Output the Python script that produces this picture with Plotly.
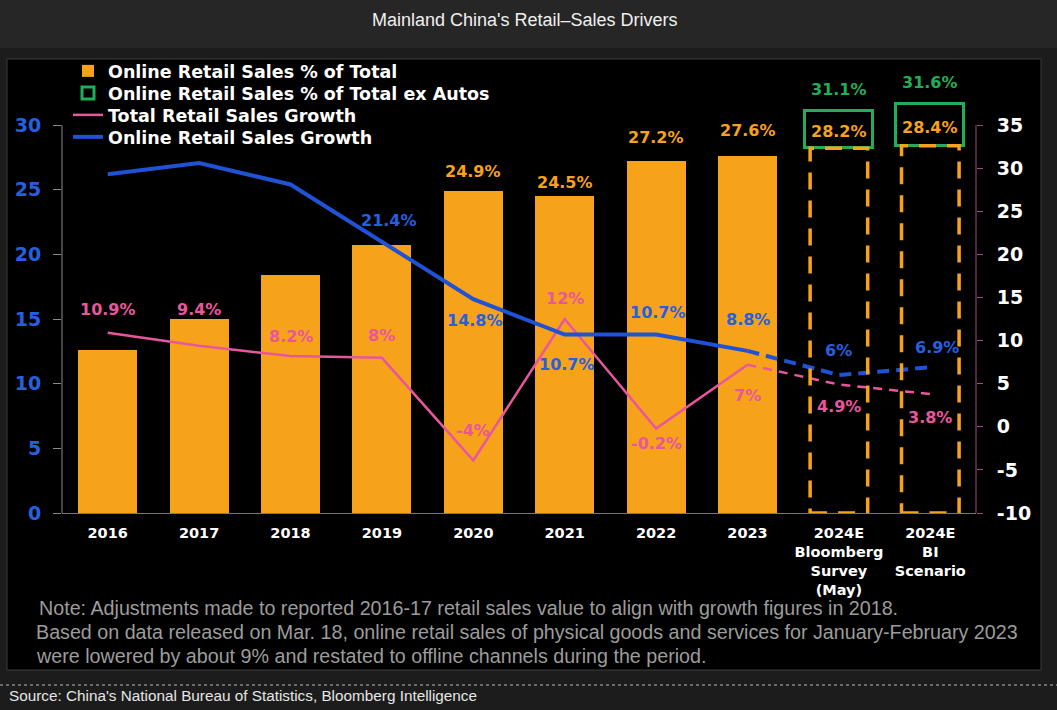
import plotly.graph_objects as go

# ---------------- data ----------------
categories = ["2016", "2017", "2018", "2019", "2020", "2021", "2022", "2023",
              "2024E<br>Bloomberg<br>Survey<br>(May)", "2024E<br>BI<br>Scenario"]
online_share = [12.6, 15.0, 18.4, 20.7, 24.9, 24.5, 27.2, 27.6, 28.2, 28.4]
online_share_ex_autos = [None, None, None, None, None, None, None, None, 31.1, 31.6]
total_growth = [10.9, 9.4, 8.2, 8.0, -3.9, 12.5, -0.2, 7.2, 4.9, 3.8]
online_growth = [29.3, 30.6, 28.1, 21.4, 14.8, 10.7, 10.7, 8.8, 6.0, 6.9]
estimate_flags = [False] * 8 + [True, True]

left_ticks = [0, 5, 10, 15, 20, 25, 30]
right_ticks = [-10, -5, 0, 5, 10, 15, 20, 25, 30, 35]

# label texts / offsets (pixels)
total_labels = ["10.9%", "9.4%", "8.2%", "8%", "-4%", "12%", "-0.2%", "7%", "4.9%", "3.8%"]
total_shift = [23, 36, 20, 22, 30, 21, -15, -31, -22, -23]
online_labels = [None, None, None, "21.4%", "14.8%", "10.7%", "10.7%", "8.8%", "6%", "6.9%"]
online_shift = [0, 0, 0, 22, -21, -30, 22, 31, 25, 20]
online_xshift = [0, 0, 0, 7, 2, 2, 2, 0, 0, 7]
share_labels = [None, None, None, None, "24.9%", "24.5%", "27.2%", "27.6%", "28.2%", "28.4%"]
share_shift = [0, 0, 0, 0, 19, 14, 24, 26, 17, 18]
ex_autos_labels = [None] * 8 + ["31.1%", "31.6%"]
ex_autos_shift = [0] * 8 + [21, 22]

# ---------------- styling ----------------
W_PX, H_PX = 1057, 710
L, R, T, B = 62, 81, 62, 197
PW, PH = W_PX - L - R, H_PX - T - B
base_px = H_PX - B  # pixel y of axis bottom

ORANGE = "#F7A21B"
GREEN = "#22AD5A"
PINK = "#E8579E"
BLUE = "#1F52D4"
BLUE_TXT = "#2460E0"
BOLD = "DejaVu Sans"
NARROW = "Liberation Sans, Arial, sans-serif"

# left axis: 0..30 over 388 px ; right: -10..35 over same px
left_top = 30 * PH / 388.0
right_top = -10 + 45 * PH / 388.0


def px_x(px):
    return (px - L) / PW


def px_y(py):
    return (base_px - py) / PH


idx = list(range(len(categories)))

fig = go.Figure()

bar_colors = ["rgba(0,0,0,0)" if e else ORANGE for e in estimate_flags]
fig.add_trace(go.Bar(
    x=categories, y=online_share, name="Online Retail Sales % of Total",
    marker=dict(color=bar_colors, line=dict(width=0)), width=0.645,
    yaxis="y", legend="legend",
))
ex_base = [s if e is not None else None for s, e in zip(online_share, online_share_ex_autos)]
ex_height = [(e - s) if e is not None else None for s, e in zip(online_share, online_share_ex_autos)]
fig.add_trace(go.Bar(
    x=categories, y=ex_height, base=ex_base, name="Online Retail Sales % of Total ex Autos",
    marker=dict(color="rgba(0,0,0,0)", line=dict(color=GREEN, width=3)), width=0.74,
    yaxis="y", legend="legend2",
))

n_act = estimate_flags.index(True)
fig.add_trace(go.Scatter(
    x=categories[:n_act], y=total_growth[:n_act], mode="lines", name="Total Retail Sales Growth",
    line=dict(color=PINK, width=2.5), yaxis="y2", legend="legend3",
))
fig.add_trace(go.Scatter(
    x=categories[n_act - 1:], y=total_growth[n_act - 1:], mode="lines", showlegend=False,
    line=dict(color=PINK, width=2.5, dash="9px,7px"), yaxis="y2",
))
fig.add_trace(go.Scatter(
    x=categories[:n_act], y=online_growth[:n_act], mode="lines", name="Online Retail Sales Growth",
    line=dict(color=BLUE, width=4), yaxis="y2", legend="legend4",
))
fig.add_trace(go.Scatter(
    x=categories[n_act - 1:], y=online_growth[n_act - 1:], mode="lines", showlegend=False,
    line=dict(color=BLUE, width=4, dash="12px,7px"), yaxis="y2",
))

shapes = []
# background panels
shapes.append(dict(type="rect", xref="paper", yref="paper", x0=px_x(0), x1=px_x(W_PX),
                   y0=px_y(48), y1=px_y(0), fillcolor="#262626", line=dict(width=0), layer="below"))
shapes.append(dict(type="rect", xref="paper", yref="paper", x0=px_x(7), x1=px_x(1041),
                   y0=px_y(670), y1=px_y(59), fillcolor="#000000",
                   line=dict(color="#3c3c3c", width=1), layer="below"))
shapes.append(dict(type="line", xref="paper", yref="paper", x0=px_x(0), x1=px_x(W_PX),
                   y0=px_y(685), y1=px_y(685), line=dict(color="#bbbbbb", width=1, dash="dot"),
                   layer="below"))
# axis lines
shapes.append(dict(type="line", xref="paper", yref="y", x0=0, x1=0, y0=left_ticks[0], y1=left_ticks[-1],
                   line=dict(color="#8a8a8a", width=1)))
shapes.append(dict(type="line", xref="paper", yref="y2", x0=1, x1=1, y0=right_ticks[0], y1=right_ticks[-1],
                   line=dict(color="#9a4f7a", width=1)))
# dashed estimate bars
for i, v, e in zip(idx, online_share, estimate_flags):
    if e:
        shapes.append(dict(type="rect", xref="x", yref="y", x0=i - 0.315, x1=i + 0.315, y0=0, y1=v,
                           fillcolor="rgba(0,0,0,0)",
                           line=dict(color=ORANGE, width=3.5, dash="17px,11px")))

ann = []
ann.append(dict(text="Mainland China's Retail\u2013Sales Drivers", xref="paper", yref="paper",
                x=px_x(525), y=px_y(20), showarrow=False, xanchor="center", yanchor="middle",
                font=dict(family=NARROW, size=18, color="#f0f0f0")))
notes = ["Note: Adjustments made to reported 2016-17 retail sales value to align with growth figures in 2018.",
         "Based on data released on Mar. 18, online retail sales of physical goods and services for January-February 2023",
         "were lowered by about 9% and restated to offline channels during the period."]
for t, xp, yp in zip(notes, [37, 34, 34], [608, 632, 656]):
    ann.append(dict(text=t, xref="paper", yref="paper", x=px_x(xp), y=px_y(yp), showarrow=False,
                    xanchor="left", yanchor="middle",
                    font=dict(family=NARROW, size=19.7, color="#9c9c9c")))
ann.append(dict(text="Source: China's National Bureau of Statistics, Bloomberg Intelligence", xref="paper",
                yref="paper", x=px_x(7), y=px_y(695), showarrow=False, xanchor="left", yanchor="middle",
                font=dict(family=NARROW, size=15.3, color="#e6e6e6")))

for i, v, t, s in zip(idx, total_growth, total_labels, total_shift):
    if t:
        ann.append(dict(text=t, x=i, y=v, xref="x", yref="y2", yshift=s, showarrow=False,
                        font=dict(family=BOLD, size=16, color=PINK, weight="bold")))
for i, v, t, s, xs in zip(idx, online_growth, online_labels, online_shift, online_xshift):
    if t:
        ann.append(dict(text=t, x=i, y=v, xref="x", yref="y2", yshift=s, xshift=xs, showarrow=False,
                        font=dict(family=BOLD, size=16, color=BLUE_TXT, weight="bold")))
for i, v, t, s in zip(idx, online_share, share_labels, share_shift):
    if t:
        ann.append(dict(text=t, x=i, y=v, xref="x", yref="y", yshift=s, showarrow=False,
                        font=dict(family=BOLD, size=16, color=ORANGE, weight="bold")))
for i, v, t, s in zip(idx, online_share_ex_autos, ex_autos_labels, ex_autos_shift):
    if t:
        ann.append(dict(text=t, x=i, y=v, xref="x", yref="y", yshift=s, showarrow=False,
                        font=dict(family=BOLD, size=16, color=GREEN, weight="bold")))


def legend_row(py):
    return dict(x=px_x(68), y=px_y(py), xanchor="left", yanchor="middle",
                bgcolor="rgba(0,0,0,0)", font=dict(family=BOLD, size=17.5, color="white", weight="bold"),
                itemwidth=30)


fig.update_layout(
    width=W_PX, height=H_PX,
    margin=dict(l=L, r=R, t=T, b=B, pad=0),
    paper_bgcolor="#1c1c1c", plot_bgcolor="rgba(0,0,0,0)",
    barmode="overlay", bargap=0,
    showlegend=True,
    legend=legend_row(71), legend2=legend_row(93), legend3=legend_row(115), legend4=legend_row(137),
    xaxis=dict(type="category", categoryorder="array", categoryarray=categories,
               range=[-0.5, len(categories) - 0.5],
               showgrid=False, zeroline=False, showline=True, linecolor="#777777", linewidth=1,
               ticks="outside", ticklen=7, tickcolor="rgba(0,0,0,0)",
               tickfont=dict(family=BOLD, size=14.5, color="white", weight="bold")),
    yaxis=dict(range=[0, left_top], tickvals=left_ticks, ticktext=[str(v) for v in left_ticks],
               showgrid=False, zeroline=False,
               showline=False, ticks="outside", ticklen=8, tickcolor="#8a8a8a",
               ticklabelstandoff=8,
               tickfont=dict(family=BOLD, size=19, color=BLUE_TXT, weight="bold")),
    yaxis2=dict(range=[-10, right_top], tickvals=right_ticks, ticktext=[str(v) for v in right_ticks],
                overlaying="y", side="right",
                showgrid=False, zeroline=False, showline=False, ticks="outside", ticklen=6,
                tickcolor="#9a4f7a", ticklabelstandoff=10,
                tickfont=dict(family=BOLD, size=19, color="white", weight="bold")),
    shapes=shapes, annotations=ann,
)

fig.write_html("out.html")
